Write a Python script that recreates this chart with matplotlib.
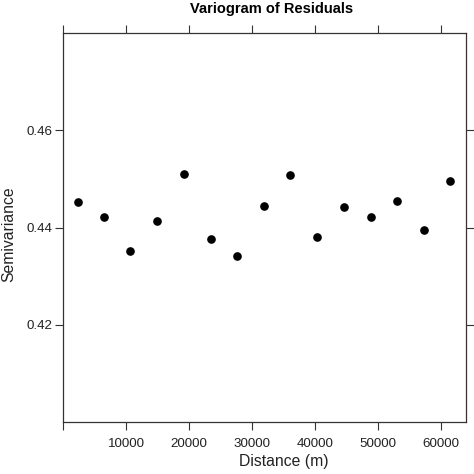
import numpy as np
import matplotlib.pyplot as plt

plt.rcParams["font.family"] = ["Liberation Sans", "DejaVu Sans"]

# binned distances (m) and semivariance of residuals
distance = [2290, 6510, 10640, 14870, 19110, 23400, 27570, 31860,
            36030, 40320, 44600, 48790, 52970, 57210, 61430]
semivariance = [0.4452, 0.4422, 0.4352, 0.4413, 0.4511, 0.4376, 0.4341, 0.4445,
                0.4508, 0.4381, 0.4443, 0.4422, 0.4455, 0.4395, 0.4496]
x_ticks = [0, 10000, 20000, 30000, 40000, 50000, 60000]
x_ticklabels = ["", "10000", "20000", "30000", "40000", "50000", "60000"]
y_ticks = [0.42, 0.44, 0.46]

fig = plt.figure(figsize=(4.74, 4.74), dpi=100)
ax = fig.add_axes([0.1335, 0.1097, 0.983 - 0.1335, 0.930 - 0.1097])

ax.plot(distance, semivariance, "o", color="black", ms=5.2, mec="black")
ax.set_xlim(0, 63900)
ax.set_ylim(0.40, 0.48)

ax.set_xticks(x_ticks)
ax.set_xticklabels(x_ticklabels)
ax.set_yticks(y_ticks)
ax.set_yticklabels(["0.42", "0.44", "0.46"])
ax.tick_params(direction="out", length=5.5, width=0.8, labelsize=9.6,
               top=True, right=True, color="#333333", labelcolor="#222222")
ax.tick_params(axis="x", pad=6)
ax.tick_params(axis="y", pad=2)
for s in ax.spines.values():
    s.set_linewidth(0.9)
    s.set_color("#333333")

fig.text(0.572, 0.981, "Variogram of Residuals", ha="center", va="center",
         fontsize=10.5, fontweight="bold")
fig.text(0.599, 0.026, "Distance (m)", ha="center", va="center", fontsize=11.3,
         color="#222222")
fig.text(0.019, 0.505, "Semivariance", ha="center", va="center", fontsize=11.3,
         rotation=90, color="#222222")

fig.savefig("out.png", dpi=100)
